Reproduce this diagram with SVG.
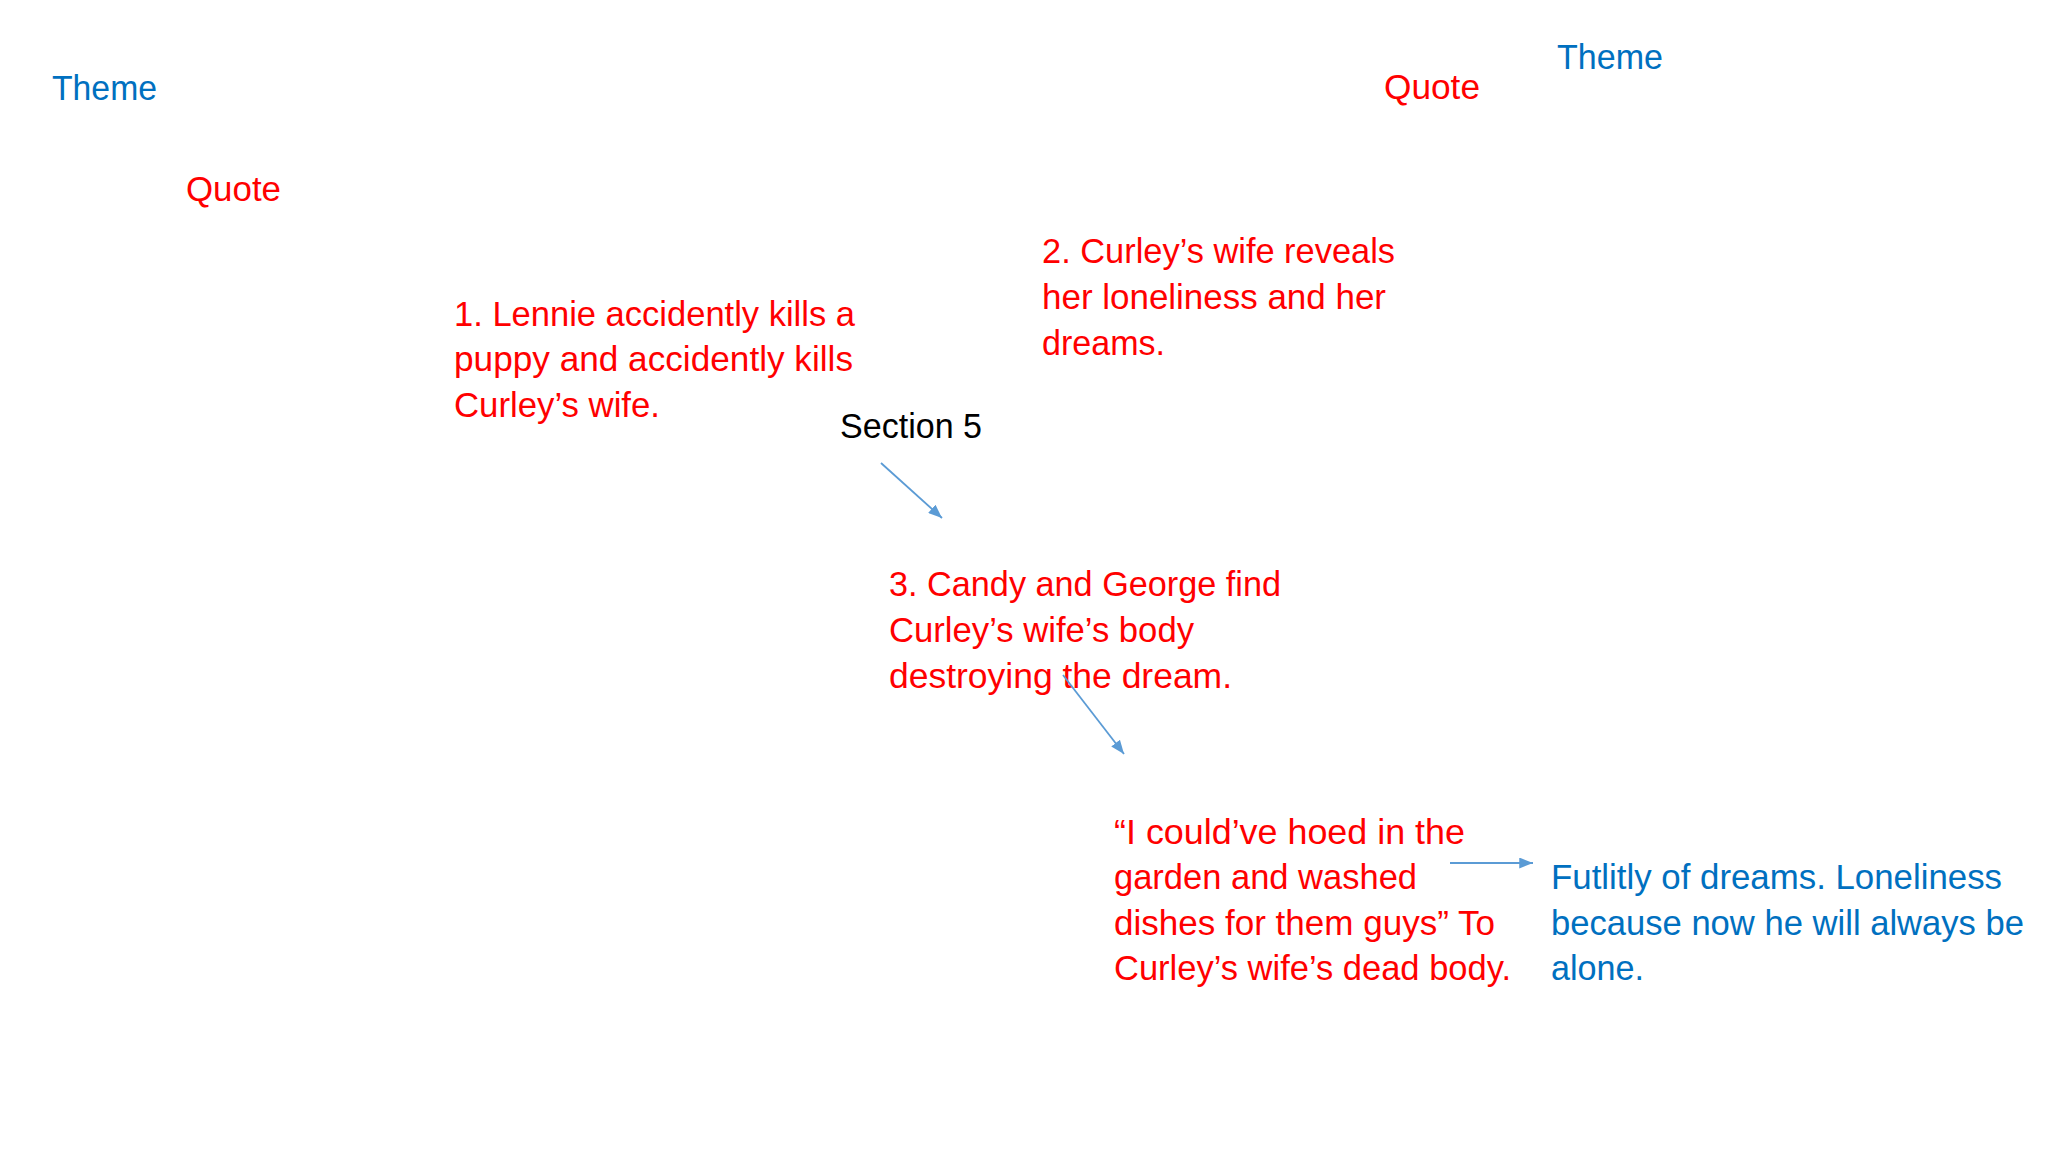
<svg xmlns="http://www.w3.org/2000/svg" width="2048" height="1152" viewBox="0 0 2048 1152">
<defs>
<style>
text { font-family: "Liberation Sans", Arial, sans-serif; font-size: 35px; }
.red { fill: #FF0000; }
.blue { fill: #0070C0; }
.black { fill: #000000; }
.conn { stroke: #5B9BD5; stroke-width: 1.8; fill: none; marker-end: url(#arrow); }
</style>
<marker id="arrow" viewBox="0 0 10 8" refX="10" refY="4" markerWidth="14" markerHeight="11" markerUnits="userSpaceOnUse" orient="auto">
<path d="M0,0 L10,4 L0,8 z" fill="#5B9BD5"/>
</marker>
</defs>
<rect width="2048" height="1152" fill="#FFFFFF"/>

<g id="theme-left"><text class="blue" x="52" y="100" textLength="105" lengthAdjust="spacingAndGlyphs">Theme</text></g>
<g id="quote-left"><text class="red" x="186" y="201" textLength="95" lengthAdjust="spacingAndGlyphs">Quote</text></g>
<g id="quote-right"><text class="red" x="1384" y="99" textLength="96" lengthAdjust="spacingAndGlyphs">Quote</text></g>
<g id="theme-right"><text class="blue" x="1557" y="69" textLength="106" lengthAdjust="spacingAndGlyphs">Theme</text></g>

<g id="item1">
<text class="red" x="454" y="326" textLength="401" lengthAdjust="spacingAndGlyphs">1. Lennie accidently kills a</text>
<text class="red" x="454" y="371" textLength="399" lengthAdjust="spacingAndGlyphs">puppy and accidently kills</text>
<text class="red" x="454" y="417" textLength="206" lengthAdjust="spacingAndGlyphs">Curley’s wife.</text>
</g>

<g id="item2">
<text class="red" x="1042" y="263" textLength="353" lengthAdjust="spacingAndGlyphs">2. Curley’s wife reveals</text>
<text class="red" x="1042" y="309" textLength="344" lengthAdjust="spacingAndGlyphs">her loneliness and her</text>
<text class="red" x="1042" y="355" textLength="123" lengthAdjust="spacingAndGlyphs">dreams.</text>
</g>

<g id="section5"><text class="black" x="840" y="438" textLength="142" lengthAdjust="spacingAndGlyphs">Section 5</text></g>

<g id="item3">
<text class="red" x="889" y="596" textLength="392" lengthAdjust="spacingAndGlyphs">3. Candy and George find</text>
<text class="red" x="889" y="642" textLength="305" lengthAdjust="spacingAndGlyphs">Curley’s wife’s body</text>
<text class="red" x="889" y="688" textLength="343" lengthAdjust="spacingAndGlyphs">destroying the dream.</text>
</g>

<g id="quote-block">
<text class="red" x="1114" y="844" textLength="351" lengthAdjust="spacingAndGlyphs">“I could’ve hoed in the</text>
<text class="red" x="1114" y="889" textLength="303" lengthAdjust="spacingAndGlyphs">garden and washed</text>
<text class="red" x="1114" y="935" textLength="381" lengthAdjust="spacingAndGlyphs">dishes for them guys” To</text>
<text class="red" x="1114" y="980" textLength="397" lengthAdjust="spacingAndGlyphs">Curley’s wife’s dead body.</text>
</g>

<g id="theme-block">
<text class="blue" x="1551" y="889" textLength="451" lengthAdjust="spacingAndGlyphs">Futlitly of dreams. Loneliness</text>
<text class="blue" x="1551" y="935" textLength="473" lengthAdjust="spacingAndGlyphs">because now he will always be</text>
<text class="blue" x="1551" y="980" textLength="93" lengthAdjust="spacingAndGlyphs">alone.</text>
</g>

<g id="connectors">
<line class="conn" x1="881" y1="463" x2="942" y2="518"/>
<line class="conn" x1="1063" y1="675" x2="1124" y2="754"/>
<line class="conn" x1="1450" y1="863" x2="1533" y2="863"/>
</g>
</svg>
